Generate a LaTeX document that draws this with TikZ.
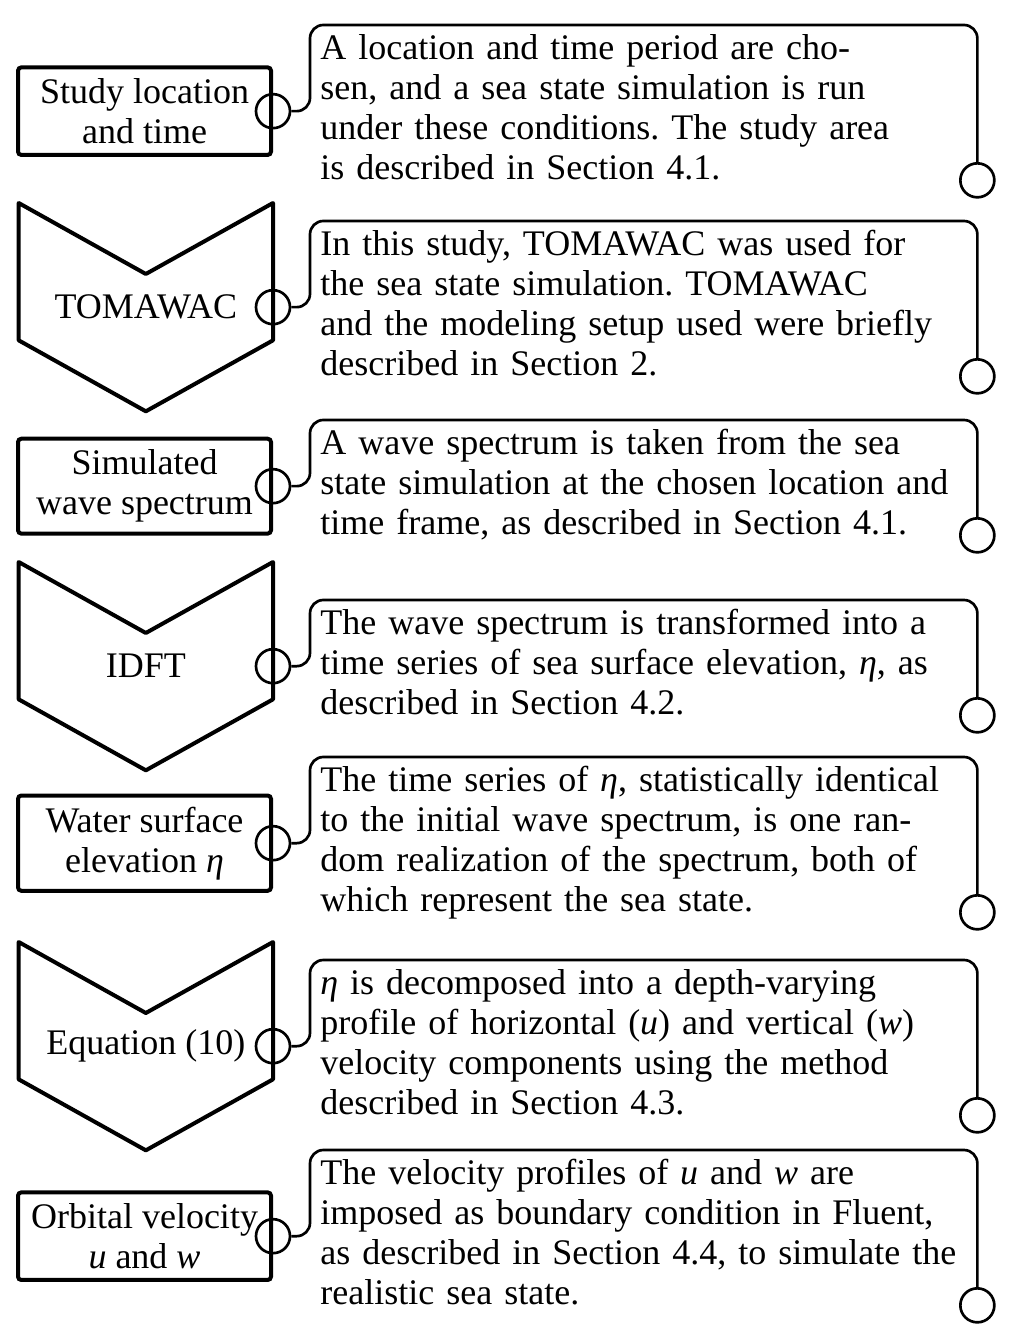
\documentclass[tikz,border=0pt]{standalone}
\usepackage{fontspec}
\setmainfont{Liberation Serif}
\usepackage{tikz}
\newcommand{\boxwidth}{75.9pt}
\newcommand{\chevheight}{62.1pt}
\newcommand{\chevdepth}{21.3pt}
\newcommand{\ringsize}{10.2pt}
\usetikzlibrary{calc,positioning}
\tikzset{
  font=\fontsize{10.8}{12}\selectfont\frenchspacing,
  node distance=11.1pt,
  rect/.style={draw,shape=rectangle,line width=1.2pt,rounded corners=1pt,minimum width=\boxwidth,inner xsep=2pt,align=center},
  chev/.style={shape=rectangle,minimum width=\boxwidth,minimum height=\chevheight,inner sep=0,align=center},
  chevline/.style={draw,line width=1.2pt,line join=round},
  desc/.style={shape=rectangle,anchor=north west,text width=194pt,inner xsep=2.9pt,inner ysep=1.65pt,align=left},
  ring/.style={draw,shape=circle,line width=0.8pt,minimum size=\ringsize,inner sep=0},
  link/.style={draw,line width=0.8pt,rounded corners=4pt},
}

\begin{document}
\begin{tikzpicture}
  \useasboundingbox (0,0) rectangle (306.9pt,-398.1pt);
  % study location
  \node (d1) [desc] at (93pt,-7.5pt) {\strut A location and time period are cho-\\sen, and a sea state simulation is run\\under these conditions. The study area\\is described in Section 4.1.\strut};
  \node (s1) [rect,left=of d1] {Study location\\and time};
  \node (a1) [ring] at (s1.east) {};
  \node (b1) [ring] at ($(d1.south east)+(0,0.5*\ringsize)$) {};
  \path [link] (a1.east) -- (a1 -| d1.west) -- (d1.north west) -- (d1.north east) -- (b1.north);
  % tomawac
  \node (d2) [desc] at (93pt,-66.3pt) {\strut In this study, TOMAWAC was used for\\the sea state simulation. TOMAWAC\\and the modeling setup used were briefly\\described in Section 2.\strut};
  \node (s2) [chev,left=of d2] {TOMAWAC};
  \path [chevline] (s2.north west) -- ($(s2.north)-(0,\chevdepth)$) -- (s2.north east) -- ($(s2.south east)+(0,\chevdepth)$) -- (s2.south) -- ($(s2.south west)+(0,\chevdepth)$) -- cycle;
  \node (a2) [ring] at (s2.east) {};
  \node (b2) [ring] at ($(d2.south east)+(0,0.5*\ringsize)$) {};
  \path [link] (a2.east) -- (a2 -| d2.west) -- (d2.north west) -- (d2.north east) -- (b2.north);
  % spectrum
  \node (d3) [desc] at (93pt,-126pt) {\strut A wave spectrum is taken from the sea\\state simulation at the chosen location and\\time frame, as described in Section 4.1.\strut};
  \node (s3) [rect,left=of d3] {Simulated\\wave spectrum};
  \node (a3) [ring] at (s3.east) {};
  \node (b3) [ring] at ($(d3.south east)+(0,0.5*\ringsize)$) {};
  \path [link] (a3.east) -- (a3 -| d3.west) -- (d3.north west) -- (d3.north east) -- (b3.north);
  % idft
  \node (d4) [desc] at (93pt,-180pt) {\strut The wave spectrum is transformed into a\\time series of sea surface elevation, \textit{η}, as\\described in Section 4.2.\strut};
  \node (s4) [chev,left=of d4] {IDFT};
  \path [chevline] (s4.north west) -- ($(s4.north)-(0,\chevdepth)$) -- (s4.north east) -- ($(s4.south east)+(0,\chevdepth)$) -- (s4.south) -- ($(s4.south west)+(0,\chevdepth)$) -- cycle;
  \node (a4) [ring] at (s4.east) {};
  \node (b4) [ring] at ($(d4.south east)+(0,0.5*\ringsize)$) {};
  \path [link] (a4.east) -- (a4 -| d4.west) -- (d4.north west) -- (d4.north east) -- (b4.north);
  % elevation
  \node (d5) [desc] at (93pt,-227.1pt) {\strut The time series of \textit{η}, statistically identical\\to the initial wave spectrum, is one ran-\\dom realization of the spectrum, both of\\which represent the sea state.\strut};
  \node (s5) [rect,left=of d5] {Water surface\\elevation \textit{η}};
  \node (a5) [ring] at (s5.east) {};
  \node (b5) [ring] at ($(d5.south east)+(0,0.5*\ringsize)$) {};
  \path [link] (a5.east) -- (a5 -| d5.west) -- (d5.north west) -- (d5.north east) -- (b5.north);
  % equation
  \node (d6) [desc] at (93pt,-288pt) {\strut\textit{η} is decomposed into a depth-varying\\profile of horizontal (\textit{u}) and vertical (\textit{w})\\velocity components using the method\\described in Section 4.3.\strut};
  \node (s6) [chev,left=of d6] {Equation (10)};
  \path [chevline] (s6.north west) -- ($(s6.north)-(0,\chevdepth)$) -- (s6.north east) -- ($(s6.south east)+(0,\chevdepth)$) -- (s6.south) -- ($(s6.south west)+(0,\chevdepth)$) -- cycle;
  \node (a6) [ring] at (s6.east) {};
  \node (b6) [ring] at ($(d6.south east)+(0,0.5*\ringsize)$) {};
  \path [link] (a6.east) -- (a6 -| d6.west) -- (d6.north west) -- (d6.north east) -- (b6.north);
  % velocity
  \node (d7) [desc] at (93pt,-345pt) {\strut The velocity profiles of \textit{u} and \textit{w} are\\imposed as boundary condition in Fluent,\\as described in Section 4.4, to simulate the\\realistic sea state.\strut};
  \node (s7) [rect,left=of d7] {Orbital velocity\\\textit{u} and \textit{w}};
  \node (a7) [ring] at (s7.east) {};
  \node (b7) [ring] at ($(d7.south east)+(0,0.5*\ringsize)$) {};
  \path [link] (a7.east) -- (a7 -| d7.west) -- (d7.north west) -- (d7.north east) -- (b7.north);
\end{tikzpicture}
\end{document}
